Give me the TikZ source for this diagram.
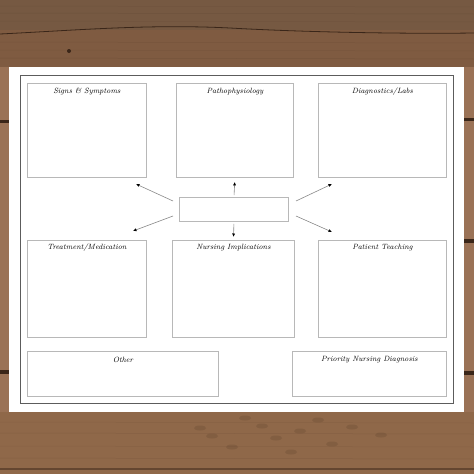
\documentclass[tikz,border=0pt]{standalone}
\usetikzlibrary{arrows.meta}
\definecolor{woodbase}{HTML}{86624A}
\definecolor{woodtop}{HTML}{765942}
\definecolor{woodmid}{HTML}{7F5B41}
\definecolor{woodlight}{HTML}{9A7256}
\definecolor{woodbot}{HTML}{8F6849}
\definecolor{wooddark}{HTML}{3A2619}
\definecolor{boxgray}{HTML}{B8B8B8}
\definecolor{framegray}{HTML}{5C5C5C}
\definecolor{arrgray}{HTML}{8A8A8A}
\begin{document}
\begin{tikzpicture}[x=1pt,y=-1pt,
  box/.style={draw=boxgray, line width=0.9pt, fill=white, anchor=north west, inner sep=0pt},
  ttl/.style={font=\fontsize{7.6}{8}\selectfont\itshape, text=black, inner sep=0pt},
  arr/.style={draw=arrgray, line width=0.6pt, -{Latex[length=3.5pt,width=3pt,black]}}]
\useasboundingbox (0,0) rectangle (474,474);
% wood background
\fill[woodbase] (0,0) rectangle (474,474);
\fill[woodtop] (0,0) rectangle (474,30);
\fill[woodmid] (0,30) rectangle (474,67);
\fill[woodlight] (0,67) rectangle (9,412);
\fill[woodlight] (464,67) rectangle (474,412);
\fill[woodbot] (0,412) rectangle (474,474);
\draw[wooddark, line width=0.8pt] (0,34) .. controls (80,30) and (150,24) .. (230,28) .. controls (300,32) and (400,34) .. (474,33);
\fill[wooddark] (69,51) circle (2pt);
\foreach \y/\o in {6/0.10,13/0.14,21/0.10,42/0.12,50/0.10,58/0.14,422/0.10,433/0.12,446/0.10,458/0.12} {
  \draw[wooddark, opacity=\o, line width=0.5pt] (0,\y) -- (474,\y+1);
}
\fill[wooddark] (0,120) rectangle (9,123);
\fill[wooddark] (464,118) rectangle (474,121);
\fill[wooddark] (464,239) rectangle (474,243);
\fill[wooddark] (0,370) rectangle (9,374);
\fill[wooddark] (464,371) rectangle (474,375);
\fill[wooddark, opacity=0.5] (0,468) rectangle (474,470);
\foreach \x/\y in {200/428,212/436,262/426,276/438,300/431,332/444,352/427,381/435,232/447,291/452,318/420,245/418} {
  \fill[wooddark, opacity=0.15] (\x,\y) ellipse (6pt and 2.5pt);
}
% paper
\fill[white] (9,67) rectangle (464,412);
\draw[framegray, line width=0.9pt] (20,75) rectangle (453,403);
% boxes
\node[box, minimum width=119pt, minimum height=94pt] (signs) at (27,83) {};
\node[box, minimum width=117pt, minimum height=94pt] (patho) at (176,83) {};
\node[box, minimum width=128pt, minimum height=94pt] (diag) at (318,83) {};
\node[box, minimum width=119pt, minimum height=97pt] (treat) at (27,240) {};
\node[box, minimum width=122pt, minimum height=97pt] (nursing) at (172,240) {};
\node[box, minimum width=128pt, minimum height=97pt] (teach) at (318,240) {};
\node[box, minimum width=191pt, minimum height=45pt] (other) at (27,351) {};
\node[box, minimum width=154pt, minimum height=45pt] (priority) at (292,351) {};
\node[box, minimum width=109pt, minimum height=24pt] (center) at (179,197) {};
% titles
\node[ttl] (signsT) at ([yshift=-9pt]signs.north) {Signs \& Symptoms};
\node[ttl] (pathoT) at ([yshift=-9pt]patho.north) {Pathophysiology};
\node[ttl] (diagT) at ([yshift=-9pt]diag.north) {Diagnostics/Labs};
\node[ttl] (treatT) at ([yshift=-8pt]treat.north) {Treatment/Medication};
\node[ttl] (nursingT) at ([yshift=-8pt]nursing.north) {Nursing Implications};
\node[ttl] (teachT) at ([yshift=-8pt]teach.north) {Patient Teaching};
\node[ttl] (otherT) at ([yshift=-9pt]other.north) {Other};
\node[ttl] (priorityT) at ([yshift=-9pt]priority.north) {Priority Nursing Diagnosis};
% arrows
\draw[arr, shorten <=2pt, shorten >=4pt] (center.north) -- (patho.south);
\draw[arr, shorten <=2pt, shorten >=3pt] (center.south) -- (nursing.north);
\coordinate (lu0) at (173,201); \coordinate (lu1) at (136,184);
\coordinate (ld0) at (173,216); \coordinate (ld1) at (133,231);
\coordinate (ru0) at (296,201); \coordinate (ru1) at (332,184);
\coordinate (rd0) at (296,216); \coordinate (rd1) at (332,232);
\draw[arr] (lu0) -- (lu1);
\draw[arr] (ld0) -- (ld1);
\draw[arr] (ru0) -- (ru1);
\draw[arr] (rd0) -- (rd1);
\end{tikzpicture}
\end{document}
